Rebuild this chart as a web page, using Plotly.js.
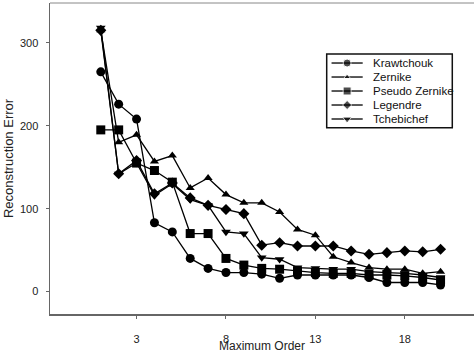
<!DOCTYPE html>
<html>
<head>
<meta charset="utf-8">
<script src="https://cdn.plot.ly/plotly-3.0.1.min.js"></script>
<style>html,body{margin:0;padding:0;background:#fff;}#chart{width:474px;height:353px;}</style>
</head>
<body>
<div id="chart"></div>
<script>
// ---- data ----
const order = [1,2,3,4,5,6,7,8,9,10,11,12,13,14,15,16,17,18,19,20];
const seriesNames = ["Krawtchouk","Zernike","Pseudo Zernike","Legendre","Tchebichef"];
const krawtchouk   = [265,226,208,83,72,40,28,23,23,21,16,20,20,20,20,17,11,11,11,8];
const zernike      = [315,180,189,157,164,125,137,117,107,107,96,75,68,42,35,29,27,27,22,24];
const pseudoZernike= [195,195,155,146,132,70,70,40,32,28,27,25,23,22,22,20,20,19,17,14];
const legendre     = [315,142,158,118,131,113,104,99,94,56,59,55,55,55,49,45,47,49,48,51];
const tchebichef   = [318,142,155,116,130,111,104,72,70,41,39,29,28,27,27,24,23,22,20,17];
const xTicks = [3,8,13,18];
const yTicks = [0,100,200,300];
const xTitle = "Maximum Order";
const yTitle = "Reconstruction Error";

const values = [krawtchouk, zernike, pseudoZernike, legendre, tchebichef];
const symbols = ["circle","triangle-up","square","diamond","triangle-down"];
const sizes = [9,8,9,8.5,8.5];
const legendSizes = [8,6,8,7,8];

const FONT = "Liberation Sans, Arial, Helvetica, sans-serif";
const traces = [];
values.forEach((v,i)=>{
  traces.push({
    x: order, y: v, name: seriesNames[i], type:"scatter", mode:"lines+markers",
    line:{color:"#000", width:1.3},
    marker:{symbol:symbols[i], size:sizes[i], color:"#000"},
    showlegend:false, cliponaxis:false
  });
});

// custom compact legend (drawn on an overlay axis spanning the plot area, 0..1)
const lgX0 = 0.664, lgX1 = 0.7375, lgXm = (lgX0+lgX1)/2, lgTextX = 0.757;
const lgRows = [0.807, 0.762, 0.717, 0.672, 0.627];
const annotations = [];
seriesNames.forEach((n,i)=>{
  traces.push({
    x:[lgX0,lgXm,lgX1], y:[lgRows[i],lgRows[i],lgRows[i]],
    xaxis:"x2", yaxis:"y2", type:"scatter", mode:"lines+markers",
    line:{color:"#000", width:1.3},
    marker:{symbol:symbols[i], size:[0,legendSizes[i],0], color:"#000"},
    showlegend:false, hoverinfo:"skip", cliponaxis:false
  });
  annotations.push({
    xref:"x2", yref:"y2", x:lgTextX, y:lgRows[i], text:n, showarrow:false,
    xanchor:"left", yanchor:"middle", font:{family:FONT, size:11.5, color:"#111"}
  });
});
// x axis title placed as in the reference (at the picture's bottom edge)
annotations.push({
  xref:"paper", yref:"paper", x:0.5, y:0, yshift:-32, xanchor:"center", yanchor:"middle",
  text:xTitle, showarrow:false, font:{family:FONT, size:12, color:"#222"}
});

const layout = {
  width:474, height:353,
  margin:{l:50, r:0, t:3, b:39},
  paper_bgcolor:"#fff", plot_bgcolor:"#fff",
  font:{family:FONT, size:11, color:"#222"},
  showlegend:false,
  xaxis:{
    range:[-1.84, 21.87], tickvals:xTicks, ticktext:xTicks.map(String),
    showline:true, linecolor:"#666", linewidth:1.5,
    ticks:"outside", ticklen:3, tickcolor:"#666",
    showgrid:false, zeroline:false, ticklabelstandoff:11,
    tickfont:{family:FONT, size:11, color:"#222"}
  },
  yaxis:{
    range:[-27, 348], tickvals:yTicks, ticktext:yTicks.map(String),
    showline:true, linecolor:"#666", linewidth:1.5,
    ticks:"outside", ticklen:3, tickcolor:"#666",
    showgrid:false, zeroline:false, ticklabelstandoff:5,
    tickfont:{family:FONT, size:11, color:"#222"},
    title:{text:yTitle, font:{family:FONT, size:13, color:"#222"}, standoff:3}
  },
  xaxis2:{overlaying:"x", range:[0,1], visible:false, fixedrange:true},
  yaxis2:{overlaying:"y", range:[0,1], visible:false, fixedrange:true},
  shapes:[
    {type:"line", xref:"paper", yref:"paper", x0:0, x1:1, y0:1, y1:1, line:{color:"#888", width:1}},
    {type:"rect", xref:"paper", yref:"paper", x0:0.6526, x1:0.9488, y0:0.599, y1:0.836,
     line:{color:"#111", width:1.5}, fillcolor:"rgba(0,0,0,0)"}
  ],
  annotations:annotations
};

Plotly.newPlot("chart", traces, layout, {staticPlot:true, displayModeBar:false});
</script>
</body>
</html>
